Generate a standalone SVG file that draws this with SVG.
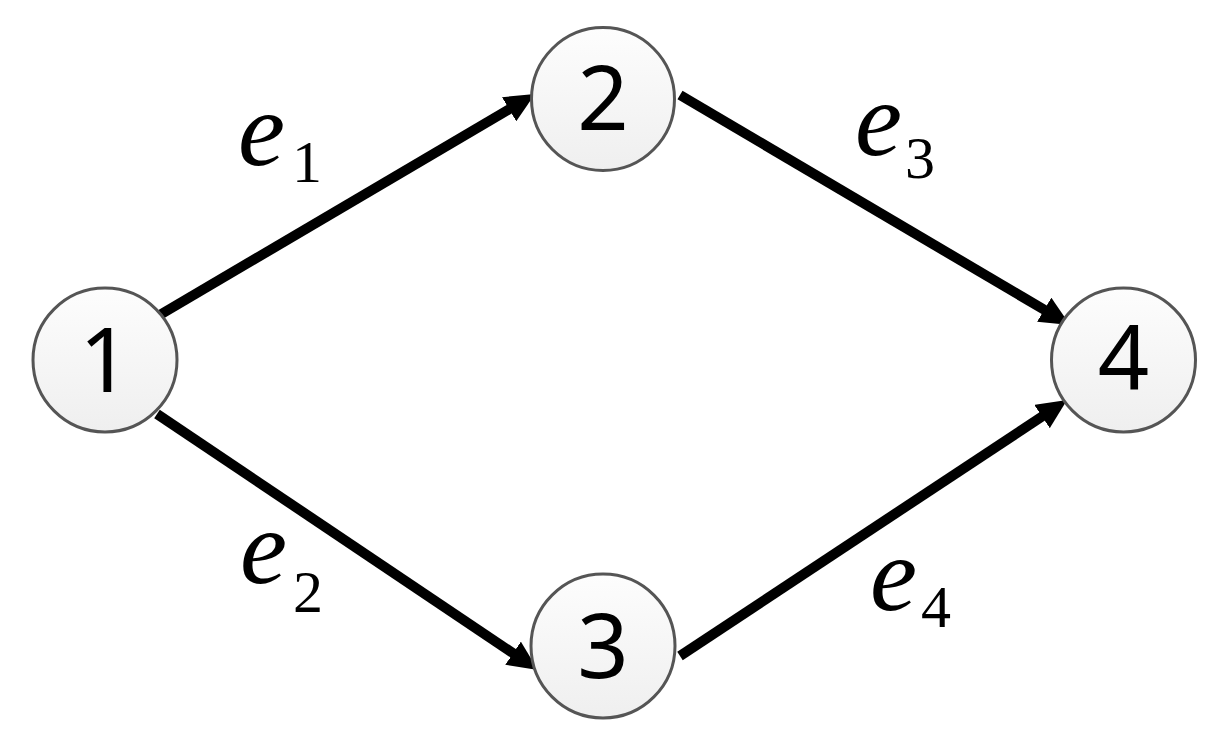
<svg xmlns="http://www.w3.org/2000/svg" width="1222" height="745" viewBox="0 0 1222 745">
  <defs>
    <linearGradient id="nodeFill" x1="0" y1="0" x2="0" y2="1">
      <stop offset="0" stop-color="#fdfdfd"/>
      <stop offset="1" stop-color="#efefef"/>
    </linearGradient>
    <marker id="arrow" viewBox="0 0 30 28" markerWidth="30" markerHeight="28" markerUnits="userSpaceOnUse" refX="8" refY="14" orient="auto">
      <path d="M0,0 L30,14 L0,28 z" fill="#000"/>
    </marker>
  </defs>
  <style>
    .node circle { fill: url(#nodeFill); stroke: #555555; stroke-width: 3; }
    .node text { font-family: "Noto Sans", "Open Sans", sans-serif; font-size: 90px; fill: #000; text-anchor: middle; }
    .edge { stroke: #000; stroke-width: 10; fill: none; marker-end: url(#arrow); }
    .lbl { font-family: "Liberation Serif", "DejaVu Serif", serif; fill: #000; }
    .lbl .v { font-style: italic; font-size: 106px; }
    .lbl .s { font-size: 60px; }
  </style>
  <rect width="1222" height="745" fill="#ffffff"/>

  <g id="connectors">
    <line class="edge" x1="158" y1="316" x2="516" y2="105.2"/>
    <line class="edge" x1="157" y1="414" x2="519.7" y2="657.7"/>
    <line class="edge" x1="680" y1="95" x2="1051.1" y2="313.8"/>
    <line class="edge" x1="680" y1="656" x2="1048.7" y2="412.1"/>
  </g>

  <g id="node1" class="node">
    <circle cx="105" cy="360" r="72"/>
    <text x="105" y="392">1</text>
  </g>
  <g id="node2" class="node">
    <circle cx="603" cy="99" r="71.5"/>
    <text x="603" y="130">2</text>
  </g>
  <g id="node3" class="node">
    <circle cx="603" cy="646" r="72"/>
    <text x="603" y="678">3</text>
  </g>
  <g id="node4" class="node">
    <circle cx="1123.5" cy="360" r="72"/>
    <text x="1123.5" y="390">4</text>
  </g>

  <g id="labels">
    <text class="lbl" x="238" y="165"><tspan class="v">e</tspan><tspan class="s" x="292" y="182">1</tspan></text>
    <text class="lbl" x="855" y="155"><tspan class="v">e</tspan><tspan class="s" x="905" y="178">3</tspan></text>
    <text class="lbl" x="240" y="583"><tspan class="v">e</tspan><tspan class="s" x="293" y="612">2</tspan></text>
    <text class="lbl" x="870" y="610"><tspan class="v">e</tspan><tspan class="s" x="921" y="627">4</tspan></text>
  </g>
</svg>
